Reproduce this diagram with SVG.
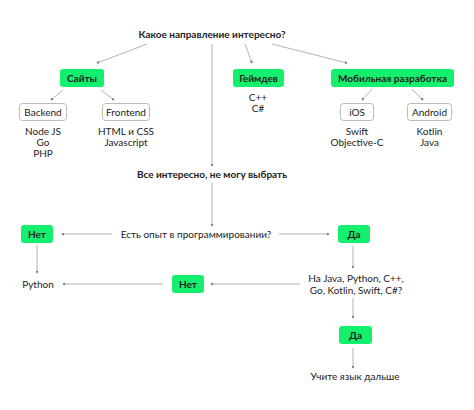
<svg xmlns="http://www.w3.org/2000/svg" width="474" height="410" viewBox="0 0 474 410">
<defs>
<marker id="ah" viewBox="0 0 4 4" refX="3" refY="2" markerWidth="3" markerHeight="3" markerUnits="userSpaceOnUse" orient="auto">
<path d="M0,0 L4,2 L0,4 z" fill="#777"/>
</marker>
</defs>
<style>
text{font-family:Lato,"Noto Sans","DejaVu Sans",sans-serif;font-size:10px;fill:#222;text-anchor:middle}
.b{font-weight:bold}
.g{fill:#14ef6e}
.o{fill:#fff;stroke:#aaa;stroke-width:0.8}
.c line{stroke:#a0a0a0;stroke-width:0.8;marker-end:url(#ah)}
</style>
<rect width="474" height="410" fill="#fff"/>
<g class="c" id="connectors">
<line x1="147" y1="44" x2="97" y2="63"/>
<line x1="245" y1="44" x2="252" y2="63"/>
<line x1="272" y1="44" x2="347" y2="63"/>
<line x1="212" y1="44" x2="212" y2="166"/>
<line x1="63" y1="90" x2="51" y2="100"/>
<line x1="101" y1="90" x2="114" y2="100"/>
<line x1="372" y1="89" x2="362" y2="100"/>
<line x1="412" y1="89" x2="423" y2="100"/>
<line x1="212" y1="183" x2="212" y2="226"/>
<line x1="112" y1="234" x2="62" y2="234"/>
<line x1="279" y1="234" x2="329" y2="234"/>
<line x1="37" y1="245" x2="37" y2="273"/>
<line x1="353" y1="246" x2="353" y2="268"/>
<line x1="300" y1="284" x2="211" y2="284"/>
<line x1="163" y1="284" x2="63" y2="284"/>
<line x1="353" y1="298" x2="353" y2="318"/>
<line x1="353" y1="348" x2="353" y2="368"/>
</g>
<g id="title"><text class="b" x="212" y="38">Какое направление интересно?</text></g>
<g id="sites"><rect class="g" x="60" y="69" width="44" height="18" rx="3"/><text class="b" x="82" y="81.5">Сайты</text></g>
<g id="gamedev"><rect class="g" x="233" y="69" width="51" height="18" rx="3"/><text class="b" x="258.5" y="81.5">Геймдев</text>
<text x="258" y="101">C++</text><text x="258" y="112">C#</text></g>
<g id="mobile"><rect class="g" x="331" y="69" width="123" height="18" rx="3"/><text class="b" x="392.5" y="81.5">Мобильная разработка</text></g>
<g id="backend"><rect class="o" x="19.5" y="103.5" width="47" height="17" rx="3"/><text x="43" y="115.5">Backend</text>
<text x="43" y="135">Node JS</text><text x="43" y="146">Go</text><text x="43" y="157">PHP</text></g>
<g id="frontend"><rect class="o" x="102.5" y="103.5" width="47" height="17" rx="3"/><text x="126" y="115.5">Frontend</text>
<text x="126" y="135">HTML и CSS</text><text x="126" y="146">Javascript</text></g>
<g id="ios"><rect class="o" x="340.5" y="103.5" width="33" height="17" rx="3"/><text x="357" y="115.5">iOS</text>
<text x="357" y="135">Swift</text><text x="357" y="146">Objective-C</text></g>
<g id="android"><rect class="o" x="407.5" y="103.5" width="44" height="17" rx="3"/><text x="429.5" y="115.5">Android</text>
<text x="429.5" y="135">Kotlin</text><text x="429.5" y="146">Java</text></g>
<g id="all"><text class="b" x="212" y="178">Все интересно, не могу выбрать</text></g>
<g id="exp"><text x="196" y="238">Есть опыт в программировании?</text></g>
<g id="no1"><rect class="g" x="21" y="225" width="32" height="18" rx="3"/><text class="b" x="37" y="237.5">Нет</text></g>
<g id="yes1"><rect class="g" x="338" y="225" width="32" height="18" rx="3"/><text class="b" x="354" y="237.5">Да</text></g>
<g id="python"><text x="38" y="288">Python</text></g>
<g id="no2"><rect class="g" x="172" y="275" width="32" height="18" rx="3"/><text class="b" x="188" y="287.5">Нет</text></g>
<g id="langs"><text x="356" y="282">На Java,  Python, C++,</text><text x="356" y="294">Go, Kotlin, Swift, C#?</text></g>
<g id="yes2"><rect class="g" x="339" y="326" width="33" height="18" rx="3"/><text class="b" x="355.5" y="338.5">Да</text></g>
<g id="learn"><text x="355" y="380">Учите язык дальше</text></g>
</svg>
